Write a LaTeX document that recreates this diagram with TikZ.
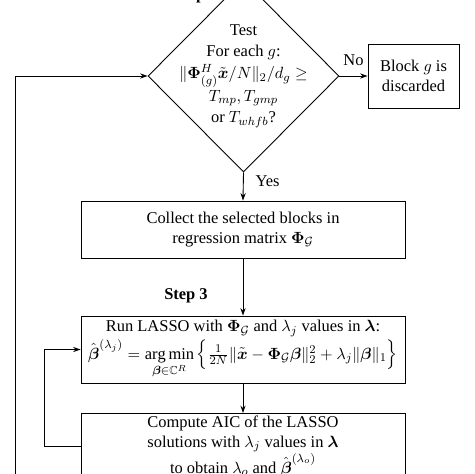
\documentclass[tikz,border=0pt]{standalone}
\usepackage{amsmath,amssymb}
\usepackage{fontspec}
\setmainfont{Liberation Serif}
\usetikzlibrary{shapes.geometric,arrows.meta,positioning}
\def\pxu{0.0237cm}
\newcommand\myfs{\fontsize{11.1}{13.4}\selectfont}
\begin{document}
\begin{tikzpicture}[x=0.0237cm,y=-0.0237cm,
  every node/.append style={font=\myfs},
  box/.style={draw,line width=0.6pt,align=center,inner sep=0pt},
  arr/.style={line width=0.6pt,-{Stealth[length=5pt,width=3.5pt]}},
  lab/.style={inner sep=0pt},
  steplab/.style={inner sep=0pt,font=\myfs\bfseries}]
\useasboundingbox (0,0) rectangle (474,474);
\node[steplab,anchor=base] (s2) at (196,-1) {Step 2};
\node[draw,diamond,line width=0.6pt,inner sep=0pt,minimum width=191*\pxu,minimum height=192*\pxu,align=center] (test) at (243.5,76) {};
\node[lab,align=center,font=\fontsize{11.1}{14.2}\selectfont] (testtxt) at (243.5,76) {Test\\For each $g$:\\[1pt]$\|\boldsymbol{\Phi}^H_{(g)}\tilde{\boldsymbol{x}}/N\|_2/d_g\geq$\\[1pt]$T_{mp},T_{gmp}$\\or $T_{whfb}$?};
\node[box,minimum width=91*\pxu,minimum height=64*\pxu] (disc) at (413.5,76) {Block $g$ is\\discarded};
\draw[arr] (test.east) -- (disc.west) node[lab,midway,above=7pt] (no) {No};
\node[box,minimum width=324*\pxu,minimum height=57*\pxu] (coll) at (243,229.5) {Collect the selected blocks in\\regression matrix $\boldsymbol{\Phi}_{\mathcal{G}}$};
\draw[arr] (test.south) -- (coll.north) node[lab,pos=0.3,right=8pt] (yes) {Yes};
\node[box,minimum width=324*\pxu,minimum height=67*\pxu] (run) at (243,349.5) {Run LASSO with $\boldsymbol{\Phi}_{\mathcal{G}}$ and $\lambda_j$ values in $\boldsymbol{\lambda}$:\\[1pt]
$\hat{\boldsymbol{\beta}}^{(\lambda_j)}=\operatorname*{arg\,min}\limits_{\boldsymbol{\beta}\in\mathbb{C}^R}\Big\{\frac{1}{2N}\|\tilde{\boldsymbol{x}}-\boldsymbol{\Phi}_{\mathcal{G}}\boldsymbol{\beta}\|_2^2+\lambda_j\|\boldsymbol{\beta}\|_1\Big\}$};
\draw[arr] (coll.south) -- (run.north);
\node[steplab] (s3) at (186,296) {Step 3};
\node[box,minimum width=324*\pxu,minimum height=80*\pxu,anchor=north] (aic) at (243,413) {};
\node[lab,align=center,anchor=north] (aictxt) at (243,415.5) {Compute AIC of the LASSO\\solutions with $\lambda_j$ values in $\boldsymbol{\lambda}$\\to obtain $\lambda_o$ and $\hat{\boldsymbol{\beta}}^{(\lambda_o)}$};
\draw[arr] (run.south) -- (aic.north);
\coordinate (l1) at (44,446);
\coordinate (l2) at (44,349.5);
\draw[arr] (aic.west |- l1) -- (l1) -- (l2) -- (run.west);
\coordinate (o1) at (15,490);
\coordinate (o2) at (15,76);
\draw[arr] (o1) -- (o2) -- (test.west);
\end{tikzpicture}
\end{document}
